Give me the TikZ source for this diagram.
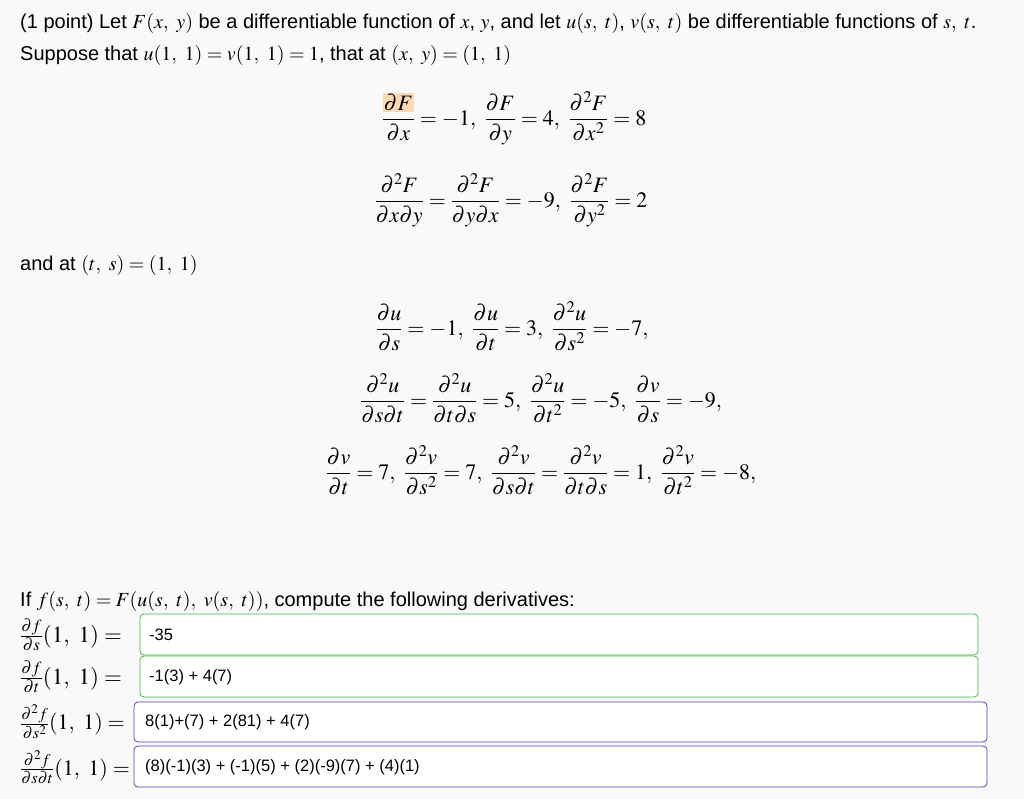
\documentclass[tikz,border=0pt]{standalone}
\usepackage{amsmath}
\usepackage{mathptmx}
\usepackage{fontspec}
\setmainfont{Liberation Sans}
\begin{document}
\begin{tikzpicture}[x=1pt,y=-1pt,
 txt/.style={anchor=west,inner sep=0pt,font=\fontsize{20}{22}\selectfont},
 eq/.style={inner sep=0pt,font=\fontsize{22}{24}\selectfont},
 ans/.style={draw=#1,line width=0.8pt,rounded corners=4pt,fill=white},
 anstxt/.style={anchor=west,inner sep=0pt,font=\fontsize{16.5}{18}\selectfont}]
\useasboundingbox (0,0) rectangle (1024,799);
\fill[gray!5] (0,0) rectangle (1024,799);
\node[txt] (l1) at (20,24) {(1 point) Let $F(x,\ y)$ be a differentiable function of $x$, $y$, and let $u(s,\ t)$, $v(s,\ t)$ be differentiable functions of $s,\ t$.};
\node[txt] (l2) at (20,56) {Suppose that $u(1,\ 1)=v(1,\ 1)=1$, that at $(x,\ y)=(1,\ 1)$};
\node[eq] (f1) at (514,118) {$\displaystyle \frac{\setlength{\fboxsep}{1pt}\colorbox{orange!30}{$\partial F$}}{\partial x}=-1,\ \frac{\partial F}{\partial y}=4,\ \frac{\partial^2F}{\partial x^2}=8$};
\node[eq] (f2) at (511,200) {$\displaystyle \frac{\partial^2F}{\partial x\partial y}=\frac{\partial^2F}{\partial y\partial x}=-9,\ \frac{\partial^2F}{\partial y^2}=2$};
\node[txt] (l3) at (20,266) {and at $(t,\ s)=(1,\ 1)$};
\node[eq] (u1) at (512,326) {$\displaystyle \frac{\partial u}{\partial s}=-1,\ \frac{\partial u}{\partial t}=3,\ \frac{\partial^2u}{\partial s^2}=-7,$};
\node[eq] (u2) at (541,398) {$\displaystyle \frac{\partial^2u}{\partial s\partial t}=\frac{\partial^2u}{\partial t\partial s}=5,\ \frac{\partial^2u}{\partial t^2}=-5,\ \frac{\partial v}{\partial s}=-9,$};
\node[eq] (u3) at (541,470) {$\displaystyle \frac{\partial v}{\partial t}=7,\ \frac{\partial^2v}{\partial s^2}=7,\ \frac{\partial^2v}{\partial s\partial t}=\frac{\partial^2v}{\partial t\partial s}=1,\ \frac{\partial^2v}{\partial t^2}=-8,$};
\node[txt] (l4) at (20,601) {If $f(s,\ t)=F(u(s,\ t),\ v(s,\ t))$, compute the following derivatives:};
\draw[ans=green!45!gray] (140,614) rectangle (978,655);
\draw[ans=green!45!gray] (140,656) rectangle (978,697);
\draw[ans=blue!45!gray] (134,702) rectangle (987,742);
\draw[ans=blue!45!gray] (134,746) rectangle (987,787);
\node[txt,font=\fontsize{23}{24}\selectfont] (q1) at (20,635) {$\frac{\partial f}{\partial s}(1,\ 1)=$};
\node[txt,font=\fontsize{23}{24}\selectfont] (q2) at (20,677) {$\frac{\partial f}{\partial t}(1,\ 1)=$};
\node[txt,font=\fontsize{22}{24}\selectfont] (q3) at (20,722) {$\frac{\partial^2 f}{\partial s^2}(1,\ 1)=$};
\node[txt,font=\fontsize{22}{24}\selectfont] (q4) at (20,767) {$\frac{\partial^2 f}{\partial s\partial t}(1,\ 1)=$};
\node[anstxt] (a1) at (149,635) {-35};
\node[anstxt] (a2) at (149,677) {-1(3) + 4(7)};
\node[anstxt] (a3) at (145,722) {8(1)+(7) + 2(81) + 4(7)};
\node[anstxt] (a4) at (145,767) {(8)(-1)(3) + (-1)(5) + (2)(-9)(7) + (4)(1)};
\end{tikzpicture}
\end{document}
